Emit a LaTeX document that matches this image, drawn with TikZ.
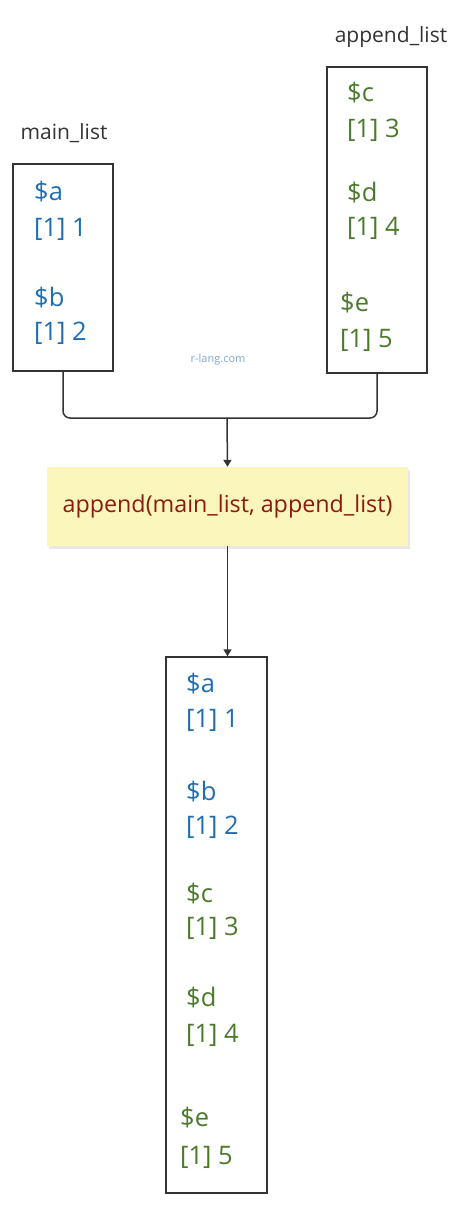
\documentclass[tikz,border=0pt]{standalone}
\usepackage{fontspec}
\setmainfont{Open Sans}
\usetikzlibrary{arrows.meta,shadows}
\definecolor{vblue}{HTML}{1F6DB3}
\definecolor{vgreen}{HTML}{4A7A2A}
\definecolor{fred}{HTML}{8B1A10}
\definecolor{ybox}{HTML}{FBF7BC}
\definecolor{lineg}{HTML}{333333}
\definecolor{wmark}{HTML}{7FA8CC}
\begin{document}
\begin{tikzpicture}[x=1pt,y=-1pt,
  listbox/.style={draw=lineg,line width=1.4pt,inner sep=0pt},
  val/.style={anchor=west,inner sep=0pt,font=\fontsize{25.5}{30}\selectfont},
  bval/.style={val,text=vblue},
  gval/.style={val,text=vgreen},
  lbl/.style={font=\fontsize{21}{25}\selectfont,text=lineg,inner sep=0pt},
  conn/.style={draw=lineg,line width=1.5pt},
  tip/.style={-{Triangle[length=7pt,width=8pt]}}]
\useasboundingbox (0,0) rectangle (474,1208);
% labels
\node[lbl] (lmain) at (64,133) {main\_list};
\node[lbl] (lapp) at (391,37) {append\_list};
% boxes
\node[listbox,minimum width=100pt,minimum height=207pt] (main) at (63,267.5) {};
\node[listbox,minimum width=100pt,minimum height=306pt] (app) at (377,220) {};
\node[draw=none,fill=ybox,minimum width=361pt,minimum height=79pt,inner sep=0pt,
  drop shadow={opacity=0.18,shadow xshift=1.5pt,shadow yshift=-2.5pt}] (fn) at (227.5,506.5)
  {\fontsize{23.3}{28}\selectfont\color{fred}append(main\_list, append\_list)};
\node[listbox,minimum width=101pt,minimum height=536pt] (res) at (216.5,925) {};
% main list contents
\node[bval] (ma) at (34,192) {\$a};
\node[bval] (ma1) at (34,229) {[1] 1};
\node[bval] (mb) at (34,298) {\$b};
\node[bval] (mb1) at (34,333) {[1] 2};
% append list contents
\node[gval] (ac) at (347,93) {\$c};
\node[gval] (ac1) at (347,130) {[1] 3};
\node[gval] (ad) at (347,193) {\$d};
\node[gval] (ad1) at (347,228) {[1] 4};
\node[gval] (ae) at (340,303) {\$e};
\node[gval] (ae1) at (340,340) {[1] 5};
% result contents
\node[bval] (ra) at (186,684) {\$a};
\node[bval] (ra1) at (186,720) {[1] 1};
\node[bval] (rb) at (186,792) {\$b};
\node[bval] (rb1) at (186,827) {[1] 2};
\node[gval] (rc) at (186,894) {\$c};
\node[gval] (rc1) at (186,928) {[1] 3};
\node[gval] (rd) at (186,998) {\$d};
\node[gval] (rd1) at (186,1035) {[1] 4};
\node[gval] (re) at (180,1118) {\$e};
\node[gval] (re1) at (180,1157) {[1] 5};
% watermark
\node[font=\fontsize{11}{13}\selectfont,text=wmark,inner sep=0pt] (wm) at (218,360) {r-lang.com};
% connectors
\coordinate (merge) at (227,418);
\draw[conn,rounded corners=7pt] (main.south) |- (merge);
\draw[conn,rounded corners=7pt] (app.south) |- (merge);
\draw[conn,tip] (merge) -- (fn.north);
\draw[conn,tip] (fn.south) -- (fn.south |- res.north);
\end{tikzpicture}
\end{document}
